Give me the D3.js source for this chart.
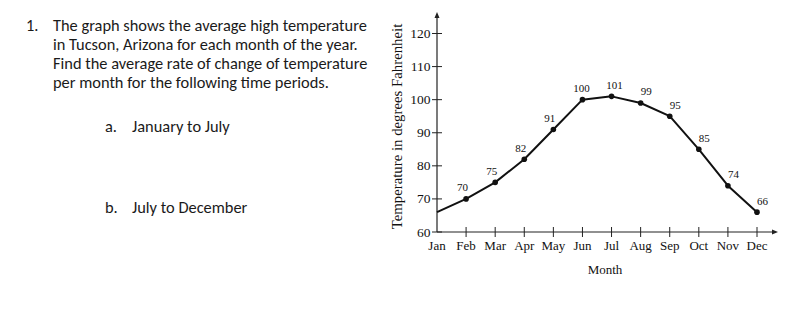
<!DOCTYPE html>
<html>
<head>
<meta charset="utf-8">
<script src="https://cdn.jsdelivr.net/npm/d3@7/dist/d3.min.js"></script>
<style>
  html, body { margin: 0; padding: 0; background: #fff; }
  svg { display: block; }
</style>
</head>
<body>
<svg id="chart" width="812" height="332"></svg>
<script>
// Average high temperature in Tucson, by month
const months = ["Jan", "Feb", "Mar", "Apr", "May", "Jun", "Jul", "Aug", "Sep", "Oct", "Nov", "Dec"];
const temps = [66, 70, 75, 82, 91, 100, 101, 99, 95, 85, 74, 66];
const yTicks = [60, 70, 80, 90, 100, 110, 120];

const questionLines = [
  "The graph shows the average high temperature",
  "in Tucson, Arizona for each month of the year.",
  "Find the average rate of change of temperature",
  "per month for the following time periods."
];
const parts = [
  ["a.", "January to July"],
  ["b.", "July to December"]
];

const svg = d3.select("#chart");

// ---- question text ----
const qFont = "Calibri, Carlito, Lato, sans-serif";
const q = svg.append("g").attr("font-family", qFont).attr("font-size", 16.4).attr("fill", "#1a1a1a");
q.append("text").attr("x", 26).attr("y", 31).text("1.");
questionLines.forEach((t, i) => {
  q.append("text").attr("x", 53).attr("y", 31 + i * 19).text(t);
});
parts.forEach((p, i) => {
  const y = i === 0 ? 132 : 213;
  q.append("text").attr("x", 105).attr("y", y).text(p[0]);
  q.append("text").attr("x", 132).attr("y", y).text(p[1]);
});

// ---- chart ----
const serif = "'Liberation Serif', 'Times New Roman', serif";
const x = d3.scalePoint().domain(months).range([437, 757]);
const y = d3.scaleLinear().domain([60, 120]).range([232, 33.5]);

const g = svg.append("g").attr("font-family", serif).attr("fill", "#111");

// y axis line with arrow
g.append("line").attr("x1", x("Jan")).attr("x2", x("Jan"))
  .attr("y1", y(60)).attr("y2", 14).attr("stroke", "#222").attr("stroke-width", 1.2);
g.append("path").attr("d", `M${x("Jan")},12 l-2.5,6 l5,0 z`).attr("fill", "#222");
// x axis line with arrow
g.append("line").attr("x1", x("Jan")).attr("x2", 775)
  .attr("y1", y(60)).attr("y2", y(60)).attr("stroke", "#222").attr("stroke-width", 1.2);
g.append("path").attr("d", `M778,${y(60)} l-6,-2.5 l0,5 z`).attr("fill", "#222");

// y ticks (crossing the axis)
yTicks.forEach(v => {
  g.append("line").attr("x1", x("Jan") - 5).attr("x2", x("Jan") + 5)
    .attr("y1", y(v)).attr("y2", y(v)).attr("stroke", "#222").attr("stroke-width", 1);
  g.append("text").attr("x", x("Jan") - 6.5).attr("y", y(v) + 4.5)
    .attr("text-anchor", "end").attr("font-size", 13.5).text(v);
});

// x ticks and month labels
months.forEach(m => {
  if (m !== "Jan") {
    g.append("line").attr("x1", x(m)).attr("x2", x(m))
      .attr("y1", y(60) - 5).attr("y2", y(60) + 5).attr("stroke", "#222").attr("stroke-width", 1);
  }
  g.append("text").attr("x", x(m)).attr("y", y(60) + 17.5)
    .attr("text-anchor", "middle").attr("font-size", 13).text(m);
});

// axis titles
g.append("text").attr("x", x(months[0]) + (x(months[11]) - x(months[0])) / 2 + 8).attr("y", 274)
  .attr("text-anchor", "middle").attr("font-size", 13).text("Month");
g.append("text").attr("transform", "translate(402,126.5) rotate(-90)")
  .attr("text-anchor", "middle").attr("font-size", 14.8).text("Temperature in degrees Fahrenheit");

// temperature line
const line = d3.line().x((d, i) => x(months[i])).y(d => y(d));
g.append("path").datum(temps).attr("d", line)
  .attr("fill", "none").attr("stroke", "#111").attr("stroke-width", 2).attr("stroke-linejoin", "round");

// points and value labels (January is the axis start, unmarked);
// labels lean away from the peak
temps.forEach((t, i) => {
  if (i === 0) return;
  g.append("circle").attr("cx", x(months[i])).attr("cy", y(t)).attr("r", 2.8).attr("fill", "#111");
  const dx = i < 5 ? -3.5 : (i === 5 ? -1 : (i === 6 ? 3 : 5.5));
  g.append("text").attr("x", x(months[i]) + dx).attr("y", y(t) - 7.5)
    .attr("text-anchor", "middle").attr("font-size", 11).text(t);
});
</script>
</body>
</html>
